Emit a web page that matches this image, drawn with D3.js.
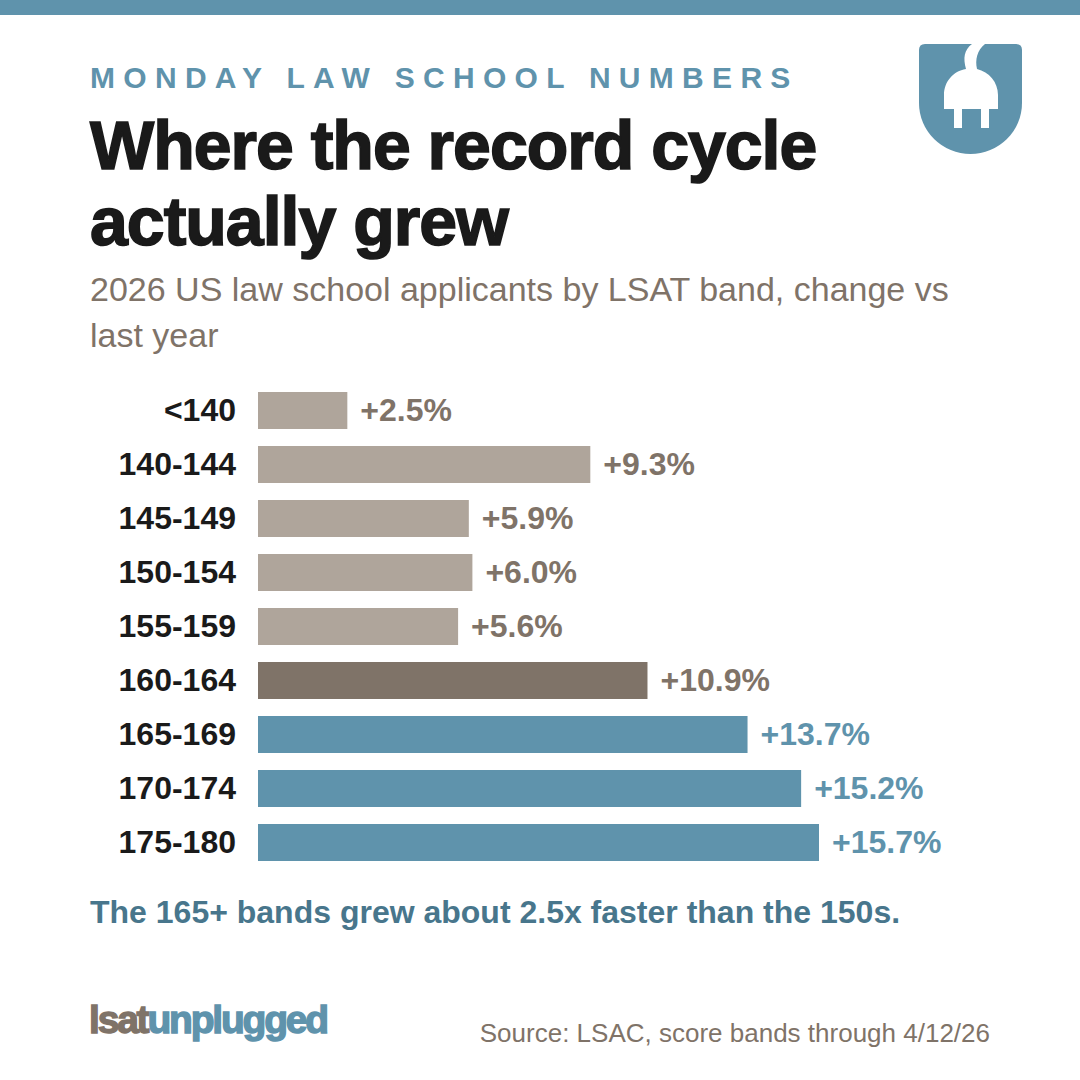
<!DOCTYPE html>
<html>
<head>
<meta charset="utf-8">
<script src="https://cdn.jsdelivr.net/npm/d3@7"></script>
<style>
  html, body { margin: 0; padding: 0; background: #fff; }
  svg { display: block; }
  text { font-family: "Liberation Sans", Arial, sans-serif; }
</style>
</head>
<body>
<svg id="chart" width="1080" height="1080"></svg>
<script>
const bands = ["<140", "140-144", "145-149", "150-154", "155-159", "160-164", "165-169", "170-174", "175-180"];
const growth = [2.5, 9.3, 5.9, 6.0, 5.6, 10.9, 13.7, 15.2, 15.7];
const groups = ["low", "low", "low", "low", "low", "mid", "high", "high", "high"];

const barColor = { low: "#afa59b", mid: "#7f7368", high: "#5f93ac" };
const valueColor = { low: "#7f7368", mid: "#7f7368", high: "#5f93ac" };

const svg = d3.select("#chart");

svg.append("rect")
  .attr("width", 1080)
  .attr("height", 15)
  .attr("fill", "#5f93ac");

// Header
svg.append("text")
  .attr("x", 90).attr("y", 88)
  .attr("font-size", 30).attr("font-weight", 700)
  .attr("letter-spacing", 8.3)
  .attr("fill", "#5f93ac")
  .text("MONDAY LAW SCHOOL NUMBERS");

["Where the record cycle", "actually grew"].forEach((line, i) => {
  svg.append("text")
    .attr("x", 90).attr("y", 169 + i * 76)
    .attr("font-size", 68).attr("font-weight", 700)
    .attr("letter-spacing", -1)
    .attr("fill", "#1a1a1a")
    .attr("stroke", "#1a1a1a").attr("stroke-width", 1.6)
    .text(line);
});

["2026 US law school applicants by LSAT band, change vs", "last year"].forEach((line, i) => {
  svg.append("text")
    .attr("x", 90).attr("y", 301 + i * 46)
    .attr("font-size", 34)
    .attr("fill", "#7f7368")
    .text(line);
});

// Bars
const x = d3.scaleLinear().domain([0, 15.7]).range([258, 819]);
const y = d3.scaleBand().domain(bands).range([383.5, 869.5]).paddingInner(17 / 54).paddingOuter(8.5 / 54);

const rows = svg.append("g")
  .selectAll("g")
  .data(bands)
  .join("g");

rows.append("rect")
  .attr("x", x(0))
  .attr("y", (d) => y(d))
  .attr("width", (d, i) => x(growth[i]) - x(0))
  .attr("height", y.bandwidth())
  .attr("fill", (d, i) => barColor[groups[i]]);

rows.append("text")
  .attr("x", 236)
  .attr("y", (d) => y(d) + y.bandwidth() / 2 + 10.5)
  .attr("text-anchor", "end")
  .attr("font-size", 32).attr("font-weight", 700)
  .attr("fill", "#1a1a1a")
  .text((d) => d);

rows.append("text")
  .attr("x", (d, i) => x(growth[i]) + 13)
  .attr("y", (d) => y(d) + y.bandwidth() / 2 + 10.5)
  .attr("font-size", 32).attr("font-weight", 700)
  .attr("fill", (d, i) => valueColor[groups[i]])
  .text((d, i) => "+" + growth[i].toFixed(1) + "%");

// Takeaway
svg.append("text")
  .attr("x", 90).attr("y", 923)
  .attr("font-size", 32).attr("font-weight", 700)
  .attr("fill", "#48768c")
  .text("The 165+ bands grew about 2.5x faster than the 150s.");

// Plug badge
const badge = svg.append("g");
badge.append("path")
  .attr("d", "M919,50 Q919,44 925,44 L1016,44 Q1022,44 1022,50 L1022,103 A51.5,51 0 0 1 919,103 Z")
  .attr("fill", "#5f93ac");
badge.append("path")
  .attr("d", "M972,44 C964,50 963,58 966,69 C953,71 944,82 944,95 L944,109 L954,109 L954,128 L962,128 L962,109 L981,109 L981,128 L989,128 L989,109 L998,109 L998,95 C998,82 989,72 977,69 C975,60 977,50 985,44 Z")
  .attr("fill", "#fff");

// Wordmark
const wordmark = svg.append("text")
  .attr("x", 89).attr("y", 1033)
  .attr("font-family", "Lato, 'Liberation Sans', sans-serif")
  .attr("font-size", 39).attr("font-weight", 900)
  .attr("letter-spacing", -2.2);
wordmark.append("tspan").attr("fill", "#7f7368").attr("stroke", "#7f7368").attr("stroke-width", 1.4).text("lsat");
wordmark.append("tspan").attr("fill", "#5f93ac").attr("stroke", "#5f93ac").attr("stroke-width", 1.4).text("unplugged");

svg.append("text")
  .attr("x", 990).attr("y", 1042)
  .attr("text-anchor", "end")
  .attr("font-size", 26)
  .attr("fill", "#7f7368")
  .text("Source: LSAC, score bands through 4/12/26");
</script>
</body>
</html>
